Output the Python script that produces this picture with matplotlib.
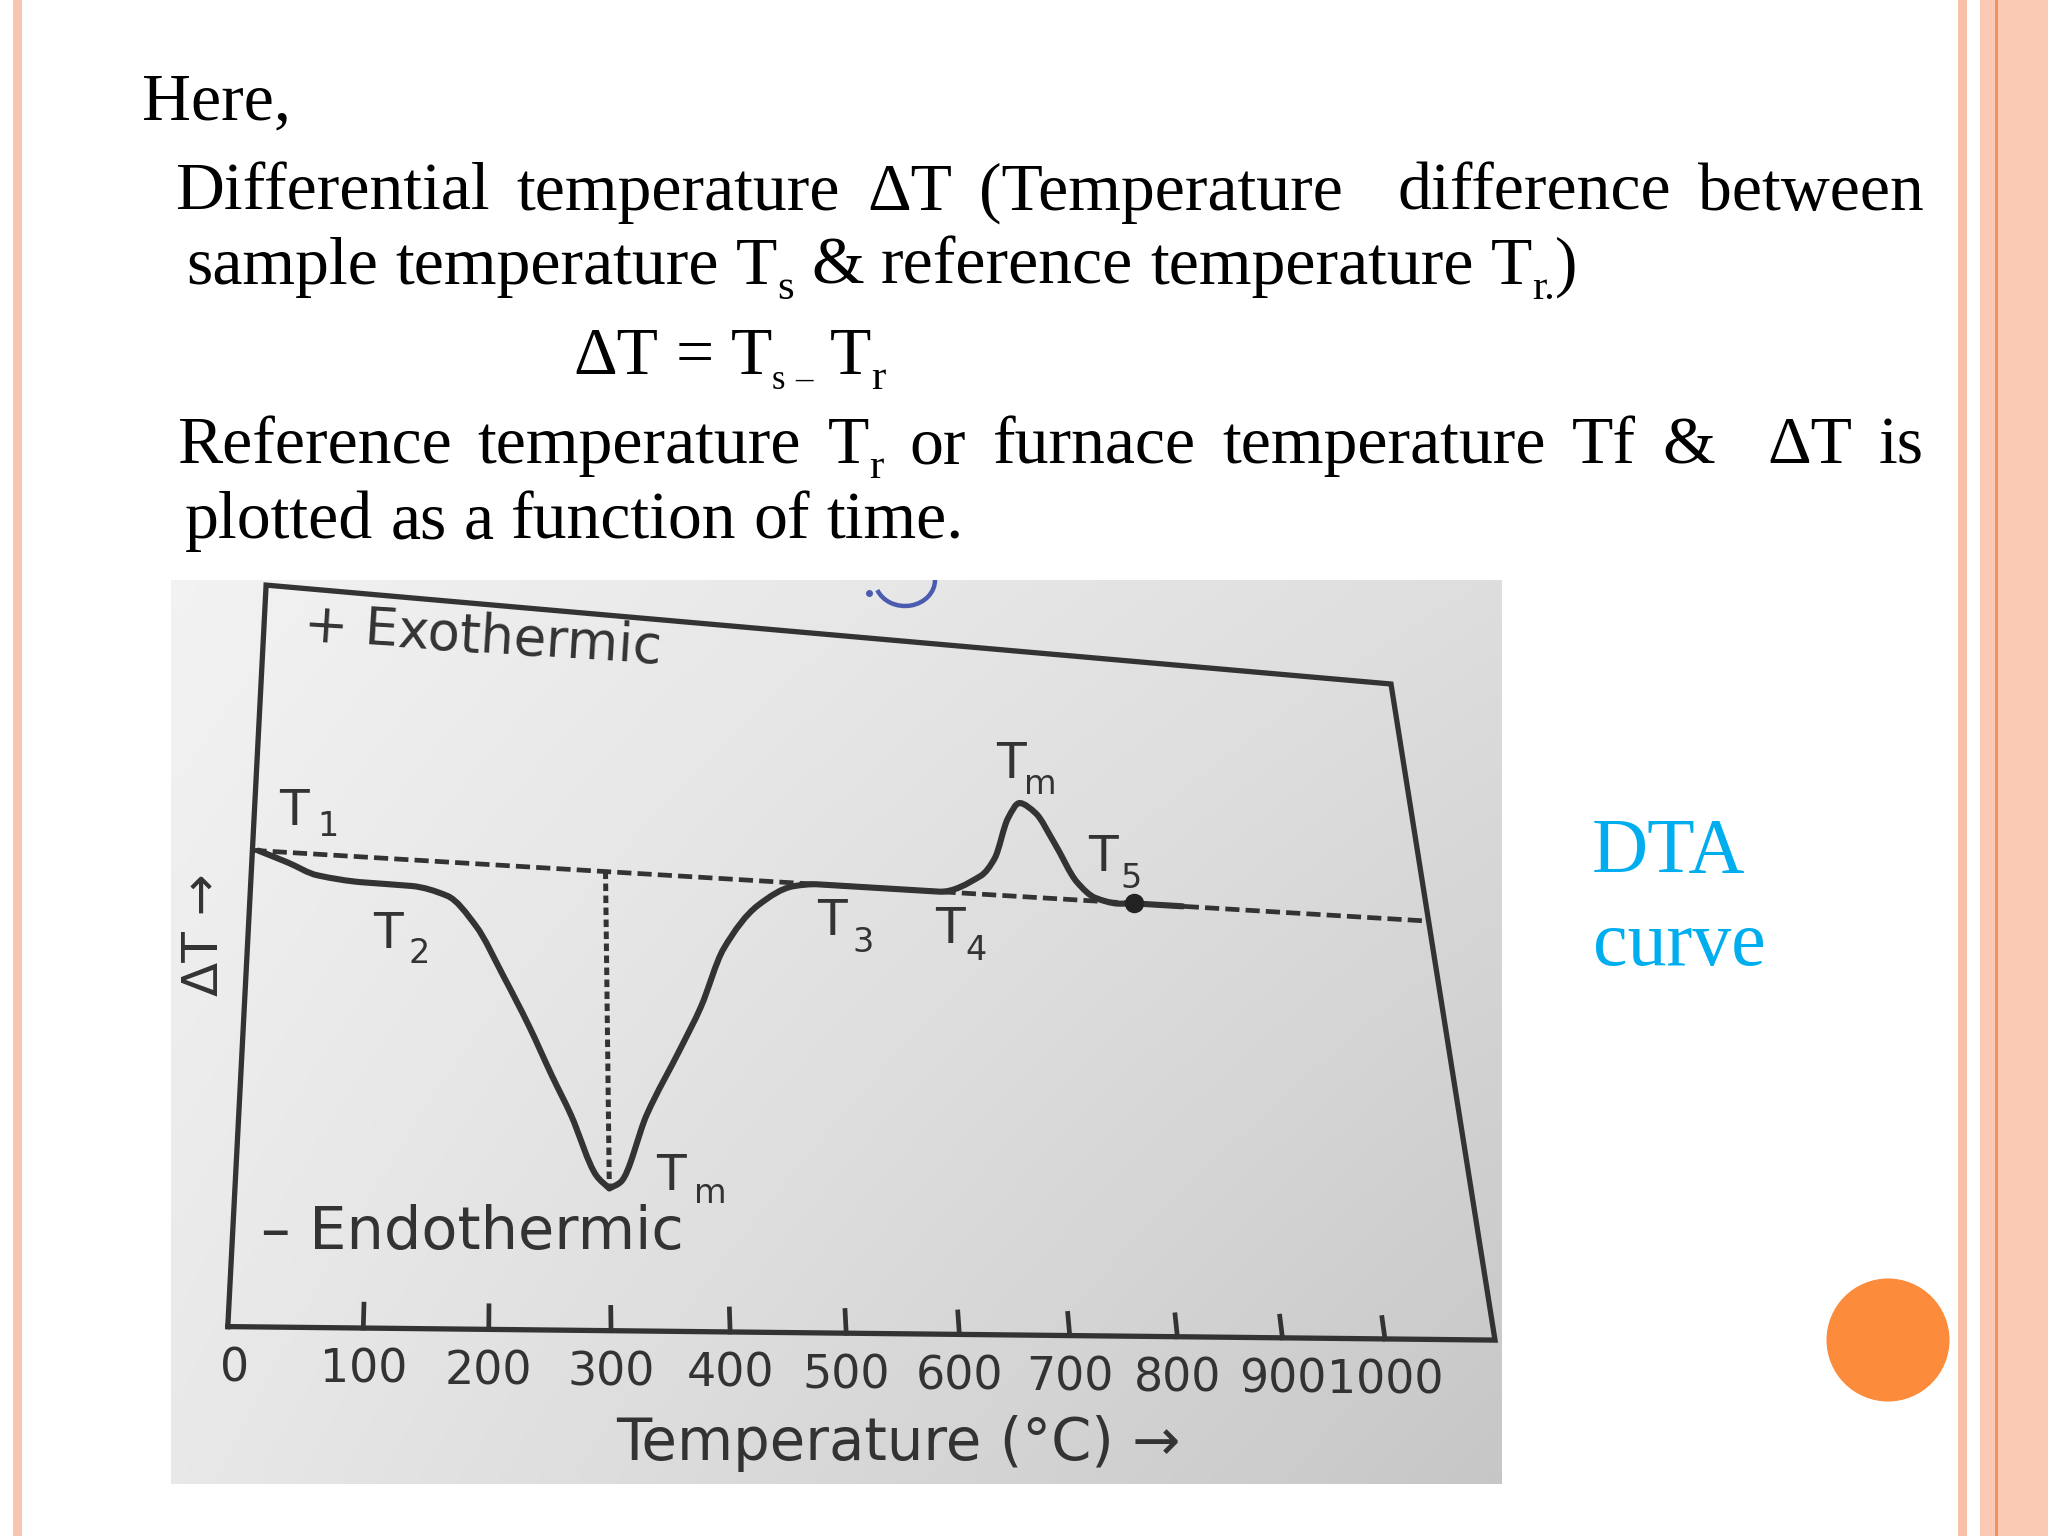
import numpy as np
import matplotlib
matplotlib.use('Agg')
import matplotlib.pyplot as plt
import matplotlib.transforms as mtransforms
from matplotlib.patches import Circle, Rectangle, Arc, PathPatch
from matplotlib.path import Path

# ---------------- data ----------------
temperature_C = [0, 25, 50, 87, 130, 161, 186, 210, 232, 252, 268, 289, 300, 310,
                 333, 364, 383, 405, 438, 472, 495, 545, 610, 652, 667, 684, 697,
                 712, 728, 747, 764, 786, 803, 852]
delta_T = [0, -0.23, -0.48, -0.58, -0.60, -0.78, -1.43, -2.53, -3.61, -4.70, -5.53,
           -6.80, -7.07, -6.92, -5.47, -3.97, -3.02, -1.66, -0.59, -0.08, 0, 0, 0,
           0.45, 0.90, 1.95, 2.35, 2.12, 1.40, 0.45, 0.08, -0.03, 0, 0]
tick_values = [0, 100, 200, 300, 400, 500, 600, 700, 800, 900, 1000]
tick_labels = ["0", "100", "200", "300", "400", "500", "600", "700", "800", "900", "1000"]
T_m_endo = 300
dT_min = -7.07
T5_temp = 803

# ---------------- figure ----------------
fig = plt.figure(figsize=(20.48, 15.36), dpi=100)
fig.patch.set_facecolor('white')
ax = fig.add_axes([0, 0, 1, 1])
ax.set_xlim(0, 2048)
ax.set_ylim(1536, 0)
ax.axis('off')
renderer = fig.canvas.get_renderer()

# slide decoration
ax.add_patch(Rectangle((13, 0), 9, 1536, color='#F8C5B0', lw=0, zorder=0))
ax.add_patch(Rectangle((1958, 0), 9, 1536, color='#F8C0A9', lw=0, zorder=0))
ax.add_patch(Rectangle((1980, 0), 68, 1536, color='#FAC9B4', lw=0, zorder=0))
ax.add_patch(Rectangle((1995, 0), 3, 1536, color='#F29060', lw=0, zorder=0))
ax.add_patch(Circle((1888, 1340), 61.5, color='#FD8B3C', lw=0, zorder=1))

# ---------------- slide text ----------------
SERIF = ['Liberation Serif', 'DejaVu Serif']
MAIN_SIZE = 48.8
KINDS = {'n': (MAIN_SIZE, 0), 's': (31, 15), 'ss': (25, 15)}


def width_of(s, size, family=SERIF):
    t = ax.text(0, 0, s, fontsize=size, family=family)
    w = t.get_window_extent(renderer=renderer).width
    t.remove()
    return w


space_w = width_of("n n", MAIN_SIZE) - width_of("nn", MAIN_SIZE)


def norm(w):
    return [(w, 'n')] if isinstance(w, str) else w


def draw_line(words, x0, y, x1=None, weights=None, color='black'):
    words = [norm(w) for w in words]
    ws = [sum(width_of(s, KINDS[k][0]) for s, k in w) for w in words]
    if weights is None:
        weights = [1] * (len(words) - 1)
    unit = space_w if x1 is None else (x1 - x0 - sum(ws)) / sum(weights)
    x = x0
    for i, w in enumerate(words):
        for s, k in w:
            size, dy = KINDS[k]
            ax.text(x, y + dy, s, fontsize=size, family=SERIF, ha='left',
                    va='baseline', color=color, zorder=5)
            x += width_of(s, size)
        if i < len(words) - 1:
            x += unit * weights[i]


draw_line(["Here,"], 141.7, 119.3)
draw_line(["Differential", "temperature", "ΔT", "(Temperature", "difference", "between"],
          175, 210, x1=1924, weights=[1, 1, 1, 2, 1])
draw_line(["sample", "temperature", [("T", 'n'), ("s", 's')], "&", "reference",
           "temperature", [("T", 'n'), ("r.", 's'), (")", 'n')]], 186.7, 284)
draw_line(["ΔT", "=", [("T", 'n'), ("s", 'ss')], [("–", 'ss')], [("T", 'n'), ("r", 's')]],
          573.3, 374, weights=[1, 1, 0.6, 1])
draw_line(["Reference", "temperature", [("T", 'n'), ("r", 's')], "or", "furnace",
           "temperature", "Tf", "&", "ΔT", "is"], 176.7, 463.3, x1=1924,
          weights=[1, 1, 1, 1, 1, 1, 1, 2, 1])
draw_line(["plotted", "as", "a", "function", "of", "time."], 185, 538.3)

ax.text(1592, 871.9, "DTA", fontsize=56, family=SERIF, color='#00AEEF',
        ha='left', va='baseline')
ax.text(1593, 965, "curve", fontsize=56, family=SERIF, color='#00AEEF',
        ha='left', va='baseline')

# ---------------- photographed chart ----------------
u = np.linspace(0, 1, 64)[None, :]
v = np.linspace(0, 1, 64)[:, None]
g = 0.95 * (1 - u) * (1 - v) + 0.87 * u * (1 - v) + 0.91 * (1 - u) * v + 0.78 * u * v
ax.imshow(np.dstack([g, g, g]), extent=(170.7, 1501.7, 1484, 580),
          interpolation='bilinear', aspect='auto', zorder=1)
ax.set_xlim(0, 2048)
ax.set_ylim(1536, 0)


class Persp(mtransforms.Transform):
    """Perspective (photo keystone) mapping from chart data to page pixels."""
    input_dims = 2
    output_dims = 2
    is_separable = False
    has_inverse = True

    def __init__(self, M):
        super().__init__()
        self.M = np.asarray(M, float)

    def transform_non_affine(self, values):
        xy = np.asarray(values, float).reshape(-1, 2)
        p = np.column_stack([xy, np.ones(len(xy))]) @ self.M.T
        return p[:, :2] / p[:, 2:3]

    def inverted(self):
        return Persp(np.linalg.inv(self.M))


def homography(src, dst):
    A, b = [], []
    for (x, y), (X, Y) in zip(src, dst):
        A.append([x, y, 1, 0, 0, 0, -X * x, -X * y]); b.append(X)
        A.append([0, 0, 0, x, y, 1, -Y * x, -Y * y]); b.append(Y)
    h = np.linalg.solve(np.array(A, float), np.array(b, float))
    return np.append(h, 1).reshape(3, 3)


T_L, T_R = -5, 1110
Y_B, Y_T = -10, 6.35
src = [(T_L, Y_B), (T_R, Y_B), (T_R, Y_T), (T_L, Y_T)]
dst = [(227.8, 1326.6), (1495.0, 1340.1), (1391.0, 684.0), (266.1, 585.1)]
trans = Persp(homography(src, dst)) + ax.transData

INK = '#333333'
SANS = ['DejaVu Sans']


def smooth_path(xs, ys, corners=()):
    """Cubic Bezier path through the data points (monotone Hermite tangents)."""
    x = np.asarray(xs, float)
    y = np.asarray(ys, float)
    n = len(x)
    d = np.diff(y) / np.diff(x)
    mL = np.zeros(n)
    mR = np.zeros(n)
    mL[0] = mR[0] = d[0]
    mL[-1] = mR[-1] = d[-1]
    for i in range(1, n - 1):
        if i in corners:
            mL[i], mR[i] = d[i - 1], d[i]
        elif d[i - 1] * d[i] > 0:
            m = 2.0 / (1.0 / d[i - 1] + 1.0 / d[i])
            mL[i] = mR[i] = m
    verts = [(x[0], y[0])]
    codes = [Path.MOVETO]
    for k in range(n - 1):
        h = x[k + 1] - x[k]
        verts += [(x[k] + h / 3, y[k] + mR[k] * h / 3),
                  (x[k + 1] - h / 3, y[k + 1] - mL[k + 1] * h / 3),
                  (x[k + 1], y[k + 1])]
        codes += [Path.CURVE4] * 3
    return Path(verts, codes)


# frame
ax.plot([T_L, T_R, T_R, T_L, T_L], [Y_B, Y_B, Y_T, Y_T, Y_B], transform=trans,
        color=INK, lw=3.8, solid_joinstyle='miter', zorder=3)
# baseline (dashed)
ax.plot([T_L, T_R], [0, 0], transform=trans, color=INK, lw=3.4,
        ls=(0, (3, 1.3)), zorder=3)
# vertical dotted line at endothermic peak
ax.plot([T_m_endo, T_m_endo], [0, dT_min], transform=trans, color=INK, lw=3.6,
        ls=(0, (1.5, 0.9)), zorder=3)
# DTA curve
ax.add_patch(PathPatch(smooth_path(temperature_C, delta_T,
                                   corners=(temperature_C.index(T_m_endo),)),
                       transform=trans, fill=False, edgecolor=INK, lw=4.4,
                       joinstyle='round', capstyle='round', zorder=4))
ax.plot([T5_temp], [0], 'o', transform=trans, color='#222222', ms=13, zorder=5)

# ticks and tick labels
for tv, tl in zip(tick_values, tick_labels):
    if tv > 0:
        ax.plot([tv, tv], [Y_B, Y_B + 0.47], transform=trans, color=INK, lw=3.4, zorder=3)
    ax.annotate(tl, xy=(tv, Y_B), xycoords=trans, xytext=(0, -39.5),
                textcoords='offset points', ha='center', va='baseline',
                fontsize=33, family=SANS, color=INK, zorder=5)

ax.text(898.5, 1460, "Temperature (°C) →", fontsize=41.5, family=SANS, color=INK,
        ha='center', va='baseline', zorder=5)
ax.text(203.5, 934.8, "ΔT →", fontsize=36, family=SANS, color=INK, rotation=90,
        ha='center', va='center', zorder=5)
ax.text(303, 641, "+ Exothermic", fontsize=38, family=SANS, color=INK,
        rotation=-3.6, rotation_mode='anchor', ha='left', va='baseline', zorder=5)
ax.text(261, 1249, "– Endothermic", fontsize=42.5, family=SANS, color=INK,
        ha='left', va='baseline', zorder=5)

# point labels (T with subscript)
point_labels = [("1", 279.5, 824.7, 317.4, 835.9),
                ("2", 373.0, 948.0, 408.8, 962.6),
                ("3", 817.6, 935.2, 852.9, 952.2),
                ("4", 935.2, 943.0, 965.2, 960.0),
                ("m", 996.6, 777.9, 1024.0, 793.9),
                ("5", 1088.6, 871.2, 1120.6, 888.2),
                ("m", 656.0, 1190.0, 694.0, 1203.0)]
for sub, tx, ty, sx, sy in point_labels:
    ax.text(tx, ty, "T", fontsize=35, family=SANS, color=INK, ha='left',
            va='baseline', zorder=5)
    ax.text(sx, sy, sub, fontsize=24, family=SANS, color=INK, ha='left',
            va='baseline', zorder=5)

# small blue ink mark on the photo
ax.add_patch(Arc((905, 580), 60, 52, theta1=0, theta2=160, color='#4A5BB0', lw=3.2, zorder=3))
ax.plot([869], [593], 'o', color='#4A5BB0', ms=4, zorder=3)

fig.savefig('out.png', dpi=100, facecolor='white')
